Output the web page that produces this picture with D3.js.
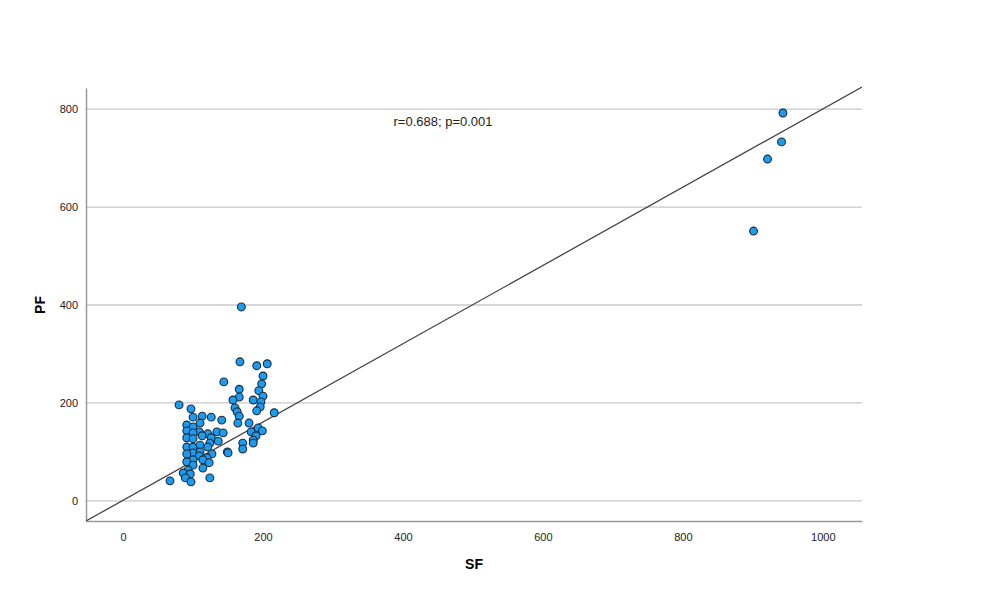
<!DOCTYPE html>
<html>
<head>
<meta charset="utf-8">
<script src="https://cdn.jsdelivr.net/npm/d3@7"></script>
<style>
  body { margin: 0; background: #fff; }
  text { font-family: Arial, "Liberation Sans", sans-serif; }
</style>
</head>
<body>
<div id="chart-area"></div>
<script>
// SF values (x) and PF values (y)
var sf = [169, 167, 191, 206, 200, 198, 194, 200, 186, 197, 196, 191, 216, 144, 166, 166, 157, 160, 163, 166,
          164, 180, 193, 199, 183, 190, 186, 186, 171, 171, 149, 150, 80, 97, 100, 113, 126, 141, 91, 100,
          110, 109, 91, 100, 121, 134, 143, 91, 100, 113, 126, 124, 136, 91, 100, 110, 121, 100, 110, 127,
          91, 109, 120, 100, 91, 114, 123, 100, 114, 93, 86, 96, 89, 97, 67, 124,
          943, 941, 921, 901];
var pf = [396, 284, 276, 280, 255, 239, 225, 214, 206, 202, 192, 184, 180, 243, 228, 212, 206, 190, 182, 173,
          159, 159, 149, 143, 141, 133, 124, 118, 118, 106, 100, 98, 196, 188, 171, 173, 171, 165, 155, 151,
          159, 141, 143, 139, 137, 141, 139, 129, 127, 133, 129, 118, 122, 110, 110, 114, 110, 98, 100, 96,
          96, 92, 88, 84, 80, 84, 78, 73, 67, 63, 57, 55, 47, 39, 41, 47,
          792, 733, 698, 551];
var xTicks = [0, 200, 400, 600, 800, 1000];
var yTicks = [0, 200, 400, 600, 800];
var fitIntercept = 1.3, fitSlope = 0.799;
var annotation = "r=0.688; p=0.001";

var width = 986, height = 591;
var x = d3.scaleLinear().domain([-53, 1056]).range([86, 862]);
var y = d3.scaleLinear().domain([-41, 843]).range([521, 88]);

var svg = d3.select("#chart-area").append("svg")
    .attr("width", width)
    .attr("height", height);

// gridlines
svg.selectAll("line.grid")
    .data(yTicks)
    .enter().append("line")
    .attr("class", "grid")
    .attr("x1", x.range()[0]).attr("x2", x.range()[1])
    .attr("y1", function (d) { return y(d); })
    .attr("y2", function (d) { return y(d); })
    .attr("stroke", "#c8c8c8").attr("stroke-width", 1.3);

var xAxis = svg.append("g")
    .attr("transform", "translate(0," + y.range()[0] + ")")
    .call(d3.axisBottom(x).tickValues(xTicks).tickFormat(d3.format("d")).tickSize(0).tickPadding(12));
var yAxis = svg.append("g")
    .attr("transform", "translate(" + x.range()[0] + ",0)")
    .call(d3.axisLeft(y).tickValues(yTicks).tickFormat(d3.format("d")).tickSize(0).tickPadding(8));
[xAxis, yAxis].forEach(function (a) {
    a.select(".domain").attr("stroke", "#999").attr("stroke-width", 1.5);
    a.selectAll("text").attr("font-size", 11).attr("fill", "#222")
        .attr("font-family", "Arial, 'Liberation Sans', sans-serif");
});

// fit line, clipped to plot box
svg.append("clipPath").attr("id", "clip").append("rect")
    .attr("x", 86).attr("y", 86).attr("width", 776).attr("height", 436);
svg.append("line")
    .attr("clip-path", "url(#clip)")
    .attr("x1", x(-53)).attr("y1", y(fitIntercept + fitSlope * -53))
    .attr("x2", x(1056)).attr("y2", y(fitIntercept + fitSlope * 1056))
    .attr("stroke", "#444").attr("stroke-width", 1.3);

svg.selectAll("circle")
    .data(d3.range(sf.length))
    .enter().append("circle")
    .attr("cx", function (i) { return x(sf[i]); })
    .attr("cy", function (i) { return y(pf[i]); })
    .attr("r", 3.9)
    .attr("fill", "#1b9cf0")
    .attr("stroke", "#1a2a3a").attr("stroke-width", 1.1);

svg.append("text").attr("x", 443).attr("y", 126).attr("text-anchor", "middle")
    .attr("font-size", 13).attr("fill", "#222").text(annotation);

svg.append("text").attr("x", 474).attr("y", 569).attr("text-anchor", "middle")
    .attr("font-size", 14).attr("font-weight", "bold").text("SF");
svg.append("text").attr("transform", "translate(45,305) rotate(-90)").attr("text-anchor", "middle")
    .attr("font-size", 14).attr("font-weight", "bold").text("PF");
</script>
</body>
</html>
